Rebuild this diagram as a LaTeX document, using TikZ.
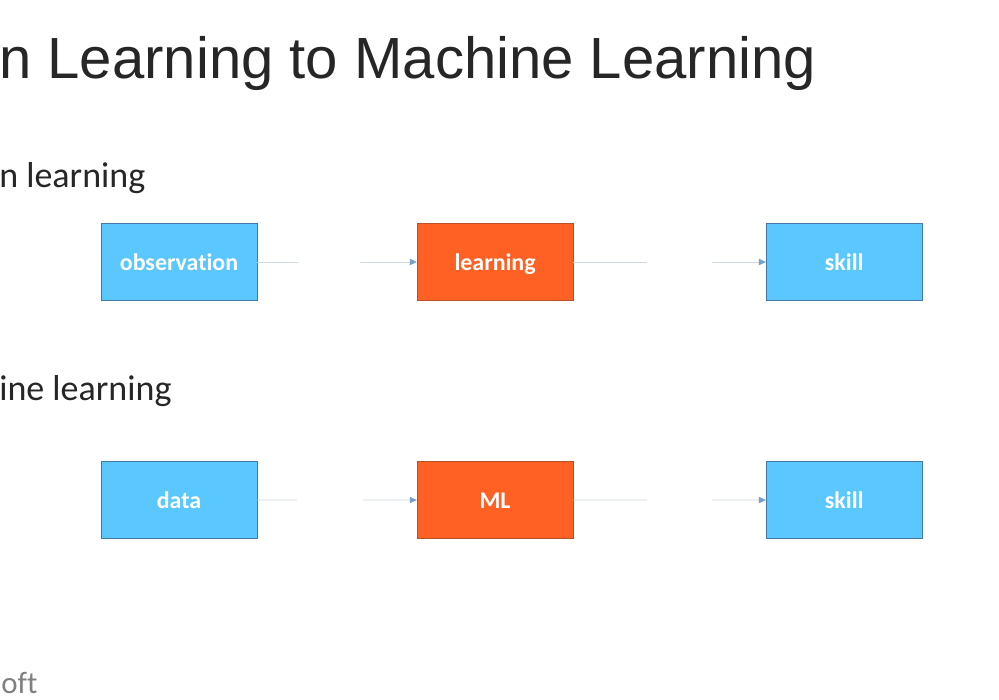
\documentclass[tikz,border=0pt]{standalone}
\usepackage{fontspec}
\setmainfont{Liberation Sans}
\newfontfamily\bodyfont[Ligatures=NoCommon]{Carlito}
\usetikzlibrary{positioning,arrows.meta}
\definecolor{boxblue}{RGB}{91,199,255}
\definecolor{boxblueline}{RGB}{70,120,165}
\definecolor{boxorange}{RGB}{255,97,36}
\definecolor{boxorangeline}{RGB}{185,80,45}
\definecolor{linkgray}{RGB}{208,216,224}
\definecolor{tipblue}{RGB}{115,160,205}
\begin{document}
\begin{tikzpicture}[x=0.025cm,y=-0.025cm,
    blockbox/.style={draw=boxblueline,fill=boxblue,rectangle,minimum width=3.9cm,minimum height=1.925cm,text=white,text height=1.25em,text depth=0.05em,font=\bodyfont\bfseries\fontsize{17}{20}\selectfont},
    learnbox/.style={blockbox,draw=boxorangeline,fill=boxorange},
    link/.style={draw=linkgray,line width=0.5pt},
    linkarrow/.style={link,-{Triangle[length=5pt,width=4.5pt,fill=tipblue,color=tipblue]}}]
  \useasboundingbox (0,0) rectangle (999,699);
  \fill[white] (0,0) rectangle (999,699);
  % headings
  \node[anchor=base west,inner sep=0,font=\fontsize{41.3}{48}\selectfont,text=black!85] (title) at (-1,78) {n Learning to Machine Learning};
  \node[anchor=base west,inner sep=0,font=\bodyfont\fontsize{25.6}{30}\selectfont,text=black!85] (human) at (-1,187) {n learning};
  \node[anchor=base west,inner sep=0,font=\bodyfont\fontsize{25.6}{30}\selectfont,text=black!85] (machine) at (-1,400) {ine learning};
  \node[anchor=base west,inner sep=0,font=\bodyfont\fontsize{22}{26}\selectfont,text=black!50] (soft) at (1,693) {oft};
  % first row
  \node[blockbox] (a) at (179,262) {observation};
  \node[learnbox,right of=a,node distance=7.9cm] (b) {learning};
  \node[blockbox,right of=b,node distance=8.725cm] (c) {skill};
  % second row
  \node[blockbox,below of=a,node distance=5.95cm] (d) {data};
  \node[learnbox,right of=d,node distance=7.9cm] (e) {ML};
  \node[blockbox,right of=e,node distance=8.725cm] (f) {skill};
  % gaps in the links
  \coordinate (ab1) at (298,262);
  \coordinate (ab2) at (360,262);
  \coordinate (bc1) at (647,262);
  \coordinate (bc2) at (712,262);
  \coordinate (de1) at (297,500);
  \coordinate (de2) at (363,500);
  \coordinate (ef1) at (647,500);
  \coordinate (ef2) at (712,500);
  \draw[link] (a) -- (ab1);
  \draw[linkarrow] (ab2) -- (b);
  \draw[link] (b) -- (bc1);
  \draw[linkarrow] (bc2) -- (c);
  \draw[link] (d) -- (de1);
  \draw[linkarrow] (de2) -- (e);
  \draw[link] (e) -- (ef1);
  \draw[linkarrow] (ef2) -- (f);
\end{tikzpicture}
\end{document}
